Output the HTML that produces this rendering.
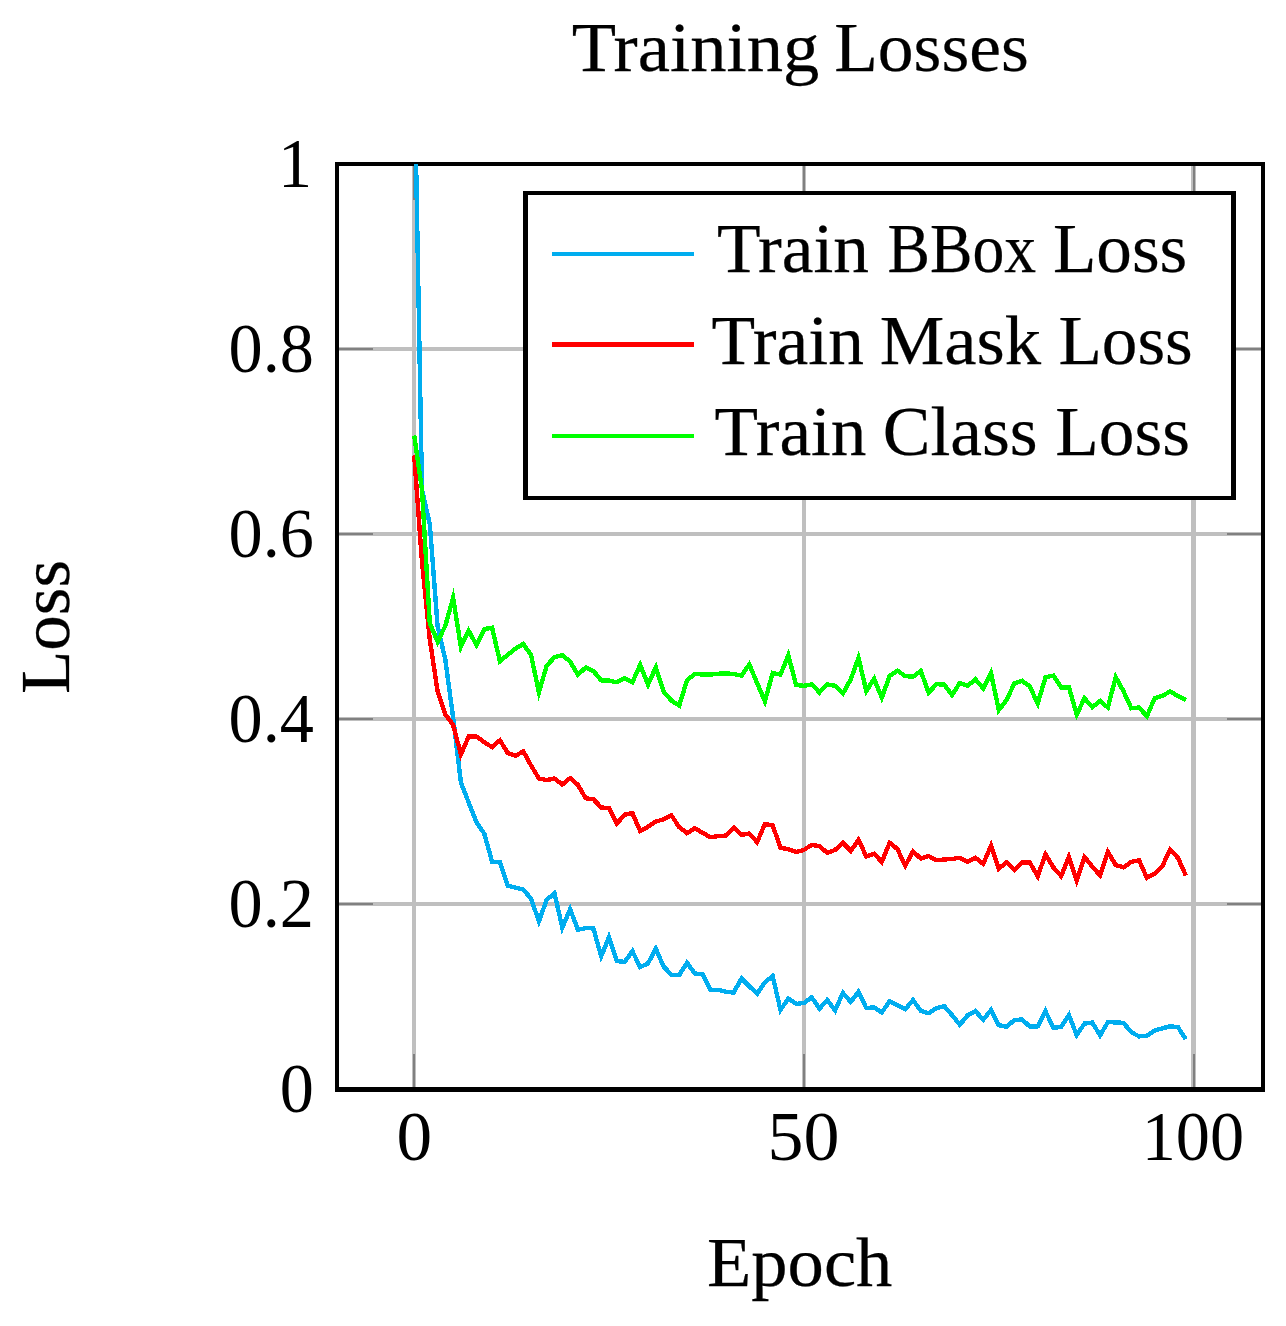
<!DOCTYPE html>
<html><head><meta charset="utf-8"><title>Training Losses</title>
<style>
html,body{margin:0;padding:0;background:#fff;}
svg{display:block;}
text{font-family:"Liberation Serif", serif;fill:#000;}
text.w{stroke:#000;stroke-width:0.25px;}
</style></head><body>
<svg width="1286" height="1326" viewBox="0 0 1286 1326">
<rect width="1286" height="1326" fill="#fff"/>
<defs><clipPath id="c"><rect x="337.0" y="164.0" width="926.0" height="925.5"/></clipPath></defs>
<g fill="#bfbfbf" shape-rendering="crispEdges"><rect x="412" y="166" width="4" height="921"/><rect x="802" y="166" width="4" height="921"/><rect x="1191" y="166" width="5" height="921"/><rect x="339" y="347" width="922" height="4"/><rect x="339" y="532" width="922" height="4"/><rect x="339" y="717" width="922" height="4"/><rect x="339" y="902" width="922" height="4"/></g>
<g fill="#808080" shape-rendering="crispEdges"><rect x="413" y="1054" width="2" height="33"/><rect x="413" y="166" width="2" height="34"/><rect x="803" y="1054" width="2" height="33"/><rect x="803" y="166" width="2" height="34"/><rect x="1193" y="1054" width="2" height="33"/><rect x="1193" y="166" width="2" height="34"/><rect x="339" y="348" width="34" height="2"/><rect x="1227" y="348" width="34" height="2"/><rect x="339" y="533" width="34" height="2"/><rect x="1227" y="533" width="34" height="2"/><rect x="339" y="718" width="34" height="2"/><rect x="1227" y="718" width="34" height="2"/><rect x="339" y="903" width="34" height="2"/><rect x="1227" y="903" width="34" height="2"/></g>
<g fill="#000" shape-rendering="crispEdges"><rect x="335" y="162" width="4" height="930"/><rect x="1261" y="162" width="4" height="930"/><rect x="335" y="162" width="930" height="4"/><rect x="335" y="1087" width="930" height="5"/></g>
<g clip-path="url(#c)" fill="none" stroke-width="4.4" stroke-linejoin="miter" stroke-miterlimit="10" shape-rendering="crispEdges">
<polyline stroke="#00adef" points="414.2,58.0 422.0,490.0 429.8,524.0 437.6,626.4 445.3,659.5 453.1,717.4 460.9,782.4 468.7,802.6 476.5,822.1 484.3,833.7 492.1,861.7 499.9,862.2 507.7,885.8 515.5,887.7 523.3,889.6 531.1,898.6 538.9,921.4 546.7,899.7 554.5,893.3 562.3,927.6 570.1,909.1 577.9,929.7 585.7,928.1 593.4,928.4 601.2,956.3 609.0,937.1 616.8,961.1 624.6,961.9 632.4,951.2 640.2,967.1 648.0,963.4 655.8,948.7 663.6,966.5 671.4,974.8 679.2,975.1 687.0,962.7 694.8,973.5 702.6,974.3 710.4,990.2 718.2,989.9 726.0,991.8 733.7,992.5 741.5,978.5 749.3,986.3 757.1,993.7 764.9,982.4 772.7,976.1 780.5,1009.9 788.3,998.5 796.1,1003.9 803.9,1003.0 811.7,997.3 819.5,1008.6 827.3,999.9 835.1,1010.3 842.9,992.9 850.7,1001.9 858.5,991.7 866.3,1008.1 874.1,1007.3 881.8,1012.5 889.6,1001.1 897.4,1005.4 905.2,1009.3 913.0,1000.1 920.8,1010.7 928.6,1013.2 936.4,1008.1 944.2,1006.1 952.0,1015.1 959.8,1024.8 967.6,1015.4 975.4,1011.0 983.2,1019.7 991.0,1010.0 998.8,1025.2 1006.6,1026.7 1014.4,1020.1 1022.1,1019.4 1029.9,1026.7 1037.7,1026.3 1045.5,1011.3 1053.3,1027.5 1061.1,1027.2 1068.9,1015.0 1076.7,1035.1 1084.5,1023.6 1092.3,1022.6 1100.1,1035.4 1107.9,1022.1 1115.7,1022.4 1123.5,1022.9 1131.3,1032.2 1139.1,1036.4 1146.9,1035.8 1154.7,1030.6 1162.5,1028.3 1170.2,1026.3 1178.0,1027.2 1185.8,1039.2"/>
<polyline stroke="#ff0000" points="414.2,455.4 422.0,562.0 429.8,639.6 437.6,691.3 445.3,714.3 453.1,724.9 460.9,754.4 468.7,736.5 476.5,736.5 484.3,742.3 492.1,747.1 499.9,740.3 507.7,752.9 515.5,755.7 523.3,751.4 531.1,765.5 538.9,778.5 546.7,780.1 554.5,778.5 562.3,784.5 570.1,778.1 577.9,784.8 585.7,798.3 593.4,799.2 601.2,807.5 609.0,808.2 616.8,823.6 624.6,814.7 632.4,813.1 640.2,831.1 648.0,826.8 655.8,821.6 663.6,819.3 671.4,815.3 679.2,827.1 687.0,833.2 694.8,828.2 702.6,832.8 710.4,837.2 718.2,836.1 726.0,835.6 733.7,827.6 741.5,834.9 749.3,833.6 757.1,842.1 764.9,824.0 772.7,825.5 780.5,847.6 788.3,849.3 796.1,852.0 803.9,849.9 811.7,844.8 819.5,846.3 827.3,852.8 835.1,849.9 842.9,842.8 850.7,850.9 858.5,839.9 866.3,856.4 874.1,853.8 881.8,861.8 889.6,842.8 897.4,849.0 905.2,865.7 913.0,851.4 920.8,858.6 928.6,856.0 936.4,860.3 944.2,859.5 952.0,859.0 959.8,857.7 967.6,861.7 975.4,857.7 983.2,864.0 991.0,845.8 998.8,868.7 1006.6,862.3 1014.4,870.2 1022.1,862.6 1029.9,862.6 1037.7,876.3 1045.5,854.3 1053.3,867.3 1061.1,876.1 1068.9,856.7 1076.7,880.5 1084.5,857.0 1092.3,866.5 1100.1,875.5 1107.9,851.8 1115.7,865.0 1123.5,867.3 1131.3,861.9 1139.1,860.3 1146.9,877.8 1154.7,873.5 1162.5,865.8 1170.2,849.5 1178.0,858.0 1185.8,875.4"/>
<polyline stroke="#00ff00" points="414.2,435.5 422.0,490.0 429.8,623.4 437.6,641.6 445.3,625.9 453.1,597.9 460.9,646.8 468.7,630.8 476.5,644.8 484.3,629.1 492.1,627.8 499.9,661.2 507.7,654.8 515.5,648.6 523.3,644.0 531.1,655.2 538.9,692.3 546.7,665.6 554.5,657.3 562.3,655.1 570.1,661.6 577.9,674.8 585.7,667.5 593.4,671.0 601.2,680.3 609.0,680.6 616.8,682.3 624.6,678.0 632.4,682.3 640.2,664.8 648.0,684.6 655.8,667.3 663.6,691.7 671.4,700.5 679.2,705.6 687.0,680.3 694.8,673.8 702.6,674.6 710.4,674.6 718.2,673.8 726.0,673.3 733.7,674.1 741.5,675.6 749.3,664.5 757.1,683.0 764.9,701.2 772.7,673.0 780.5,674.6 788.3,655.2 796.1,685.0 803.9,685.8 811.7,684.5 819.5,692.4 827.3,684.5 835.1,685.8 842.9,693.5 850.7,679.5 858.5,657.8 866.3,691.1 874.1,678.8 881.8,697.7 889.6,676.1 897.4,670.6 905.2,676.1 913.0,676.7 920.8,671.0 928.6,692.7 936.4,684.2 944.2,684.5 952.0,695.0 959.8,683.0 967.6,685.8 975.4,679.4 983.2,688.3 991.0,673.2 998.8,710.1 1006.6,699.8 1014.4,683.4 1022.1,680.8 1029.9,686.5 1037.7,703.6 1045.5,677.2 1053.3,675.6 1061.1,687.3 1068.9,687.3 1076.7,714.4 1084.5,698.3 1092.3,707.2 1100.1,700.9 1107.9,707.6 1115.7,677.1 1123.5,691.2 1131.3,708.3 1139.1,707.5 1146.9,716.3 1154.7,698.2 1162.5,695.9 1170.2,691.3 1178.0,696.2 1185.8,700.1"/>
</g>
<g shape-rendering="crispEdges"><rect x="523" y="191" width="713" height="309" fill="#fff"/><g fill="#000"><rect x="523" y="191" width="5" height="309"/><rect x="1231" y="191" width="5" height="309"/><rect x="523" y="191" width="713" height="4"/><rect x="523" y="496" width="713" height="4"/></g><rect x="552" y="252" width="142" height="4" fill="#00adef"/><rect x="552" y="342" width="142" height="5" fill="#ff0000"/><rect x="552" y="434" width="142" height="4" fill="#00ff00"/></g>
<text class="w" y="71.30" font-size="69.3"><tspan x="571.80" textLength="247.49" lengthAdjust="spacingAndGlyphs">Training</tspan> <tspan x="834.20" textLength="194.59" lengthAdjust="spacingAndGlyphs">Losses</tspan></text>
<text class="w" x="707.00" y="1285.60" font-size="69.3" textLength="185.39" lengthAdjust="spacingAndGlyphs">Epoch</text>
<text class="w" x="68.60" y="694.00" font-size="69.3" textLength="134.01" lengthAdjust="spacingAndGlyphs" transform="rotate(-90 68.60 694.00)">Loss</text>
<text x="396.40" y="1159.80" font-size="69.3" textLength="35.63" lengthAdjust="spacingAndGlyphs">0</text>
<text x="767.60" y="1159.80" font-size="69.3" textLength="71.95" lengthAdjust="spacingAndGlyphs">50</text>
<text x="1141.70" y="1159.80" font-size="69.3" textLength="102.42" lengthAdjust="spacingAndGlyphs">100</text>
<text x="278.00" y="186.60" font-size="69.3" textLength="34.13" lengthAdjust="spacingAndGlyphs">1</text>
<text x="228.60" y="371.70" font-size="69.3" textLength="85.33" lengthAdjust="spacingAndGlyphs">0.8</text>
<text x="228.60" y="556.80" font-size="69.3" textLength="85.33" lengthAdjust="spacingAndGlyphs">0.6</text>
<text x="228.60" y="741.90" font-size="69.3" textLength="85.33" lengthAdjust="spacingAndGlyphs">0.4</text>
<text x="228.60" y="927.00" font-size="69.3" textLength="85.33" lengthAdjust="spacingAndGlyphs">0.2</text>
<text x="279.80" y="1112.10" font-size="69.3" textLength="34.13" lengthAdjust="spacingAndGlyphs">0</text>
<text class="w" y="271.80" font-size="69.3"><tspan x="716.90" textLength="152.09" lengthAdjust="spacingAndGlyphs">Train</tspan> <tspan x="887.50" textLength="148.53" lengthAdjust="spacingAndGlyphs">BBox</tspan> <tspan x="1052.90" textLength="134.43" lengthAdjust="spacingAndGlyphs">Loss</tspan></text>
<text class="w" y="363.80" font-size="69.3"><tspan x="711.60" textLength="152.29" lengthAdjust="spacingAndGlyphs">Train</tspan> <tspan x="879.80" textLength="161.30" lengthAdjust="spacingAndGlyphs">Mask</tspan> <tspan x="1058.40" textLength="134.43" lengthAdjust="spacingAndGlyphs">Loss</tspan></text>
<text class="w" y="454.50" font-size="69.3"><tspan x="714.60" textLength="151.89" lengthAdjust="spacingAndGlyphs">Train</tspan> <tspan x="882.70" textLength="154.94" lengthAdjust="spacingAndGlyphs">Class</tspan> <tspan x="1055.30" textLength="134.63" lengthAdjust="spacingAndGlyphs">Loss</tspan></text>
</svg>
</body></html>
